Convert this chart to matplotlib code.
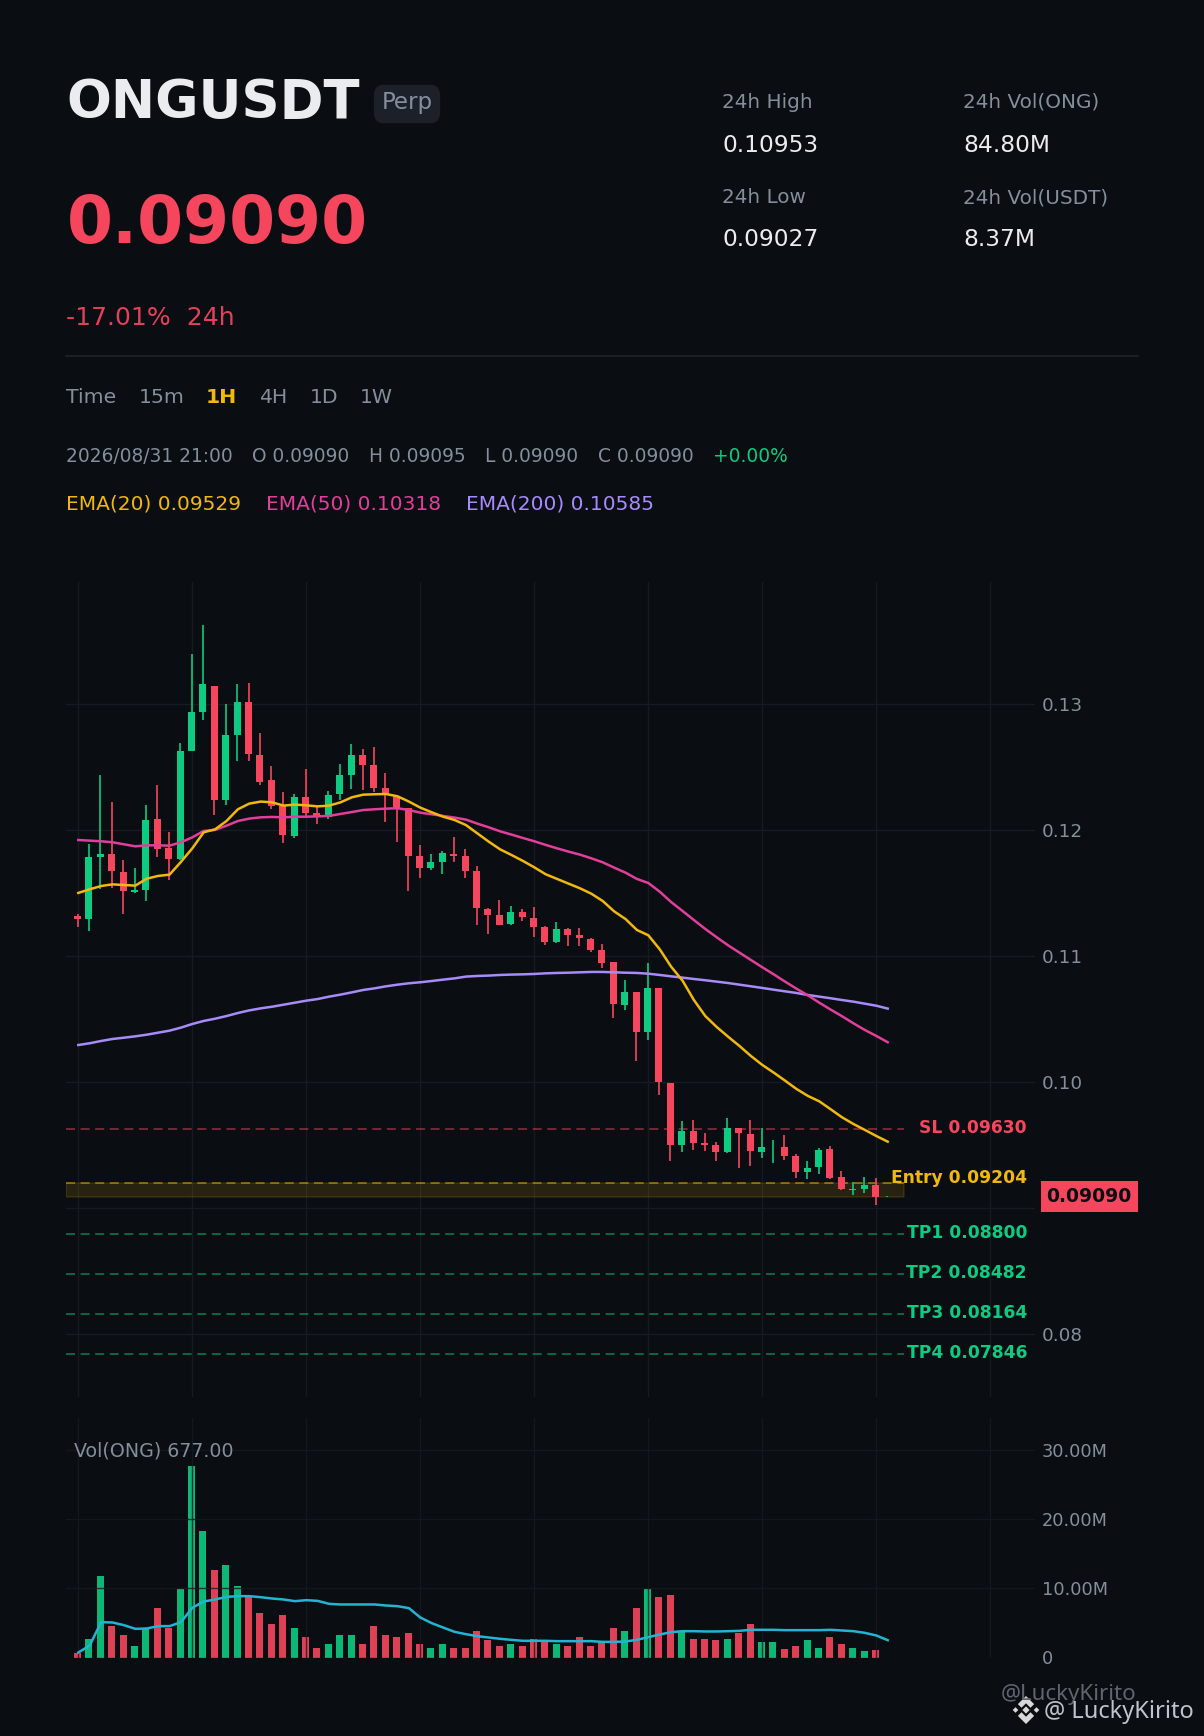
import matplotlib
matplotlib.use("Agg")
import matplotlib.pyplot as plt
from matplotlib.patches import FancyBboxPatch, Polygon, Rectangle

W, H = 1204, 1736
BG = "#0a0d11"
RED = "#F6465D"
GREEN = "#0ECB81"
GOLD = "#F0B90B"
PINK = "#E23E9B"
PURPLE = "#A78BFA"
CYAN = "#22B5D3"
GRAY = "#848E9C"
WHITE = "#EAECEF"
GRID = "#161A25"

# candles, one value per hour
opens = [.11320, .11296, .11788, .11812, .11669, .11511, .11526, .12090, .11860, .11772,
         .12630, .12939, .13146, .12241, .12757, .13019, .12598, .12399, .12193, .11955,
         .12265, .12138, .12106, .12288, .12439, .12598, .12519, .12336, .12272, .12175,
         .11796, .11701, .11749, .11812, .11796, .11677, .11376, .11328, .11257, .11352,
         .11304, .11233, .11114, .11217, .11169, .11138, .11050, .10955, .10614, .10717,
         .10399, .10749, .09995, .09503, .09614, .09519, .09503, .09447, .09638, .09590,
         .09447, .09542, .09487, .09415, .09288, .09328, .09471, .09249, .09145, .09153,
         .09185, .09090]
highs = [.11336, .11892, .12439, .12225, .11765, .11701, .12201, .12360, .11987, .12693,
         .13399, .13630, .13146, .13003, .13161, .13169, .12772, .12511, .12304, .12288,
         .12487, .12193, .12312, .12526, .12685, .12645, .12661, .12455, .12272, .12175,
         .11884, .11812, .11836, .11947, .11852, .11717, .11384, .11447, .11399, .11376,
         .11392, .11241, .11272, .11225, .11225, .11145, .11098, .10955, .10812, .10717,
         .10947, .10749, .09995, .09693, .09701, .09598, .09526, .09717, .09638, .09701,
         .09638, .09542, .09582, .09431, .09376, .09479, .09495, .09296, .09209, .09249,
         .09241, .09095]
lows = [.11233, .11201, .11534, .11542, .11336, .11503, .11439, .11788, .11606, .11765,
        .12630, .12876, .12122, .12201, .12550, .12550, .12360, .12169, .11899, .11939,
        .12114, .12050, .12090, .12241, .12328, .12320, .12304, .12066, .11907, .11519,
        .11622, .11685, .11653, .11749, .11622, .11249, .11177, .11249, .11249, .11280,
        .11153, .11090, .11106, .11082, .11082, .11034, .10907, .10511, .10574, .10170,
        .10336, .09899, .09376, .09447, .09463, .09455, .09376, .09439, .09320, .09336,
        .09399, .09360, .09384, .09241, .09233, .09272, .09233, .09145, .09106, .09122,
        .09026, .09090]
closes = [.11296, .11788, .11812, .11677, .11519, .11526, .12082, .11852, .11772, .12630,
          .12939, .13161, .12241, .12757, .13019, .12606, .12384, .12193, .11963, .12265,
          .12138, .12106, .12280, .12439, .12598, .12519, .12336, .12280, .12175, .11796,
          .11701, .11749, .11820, .11796, .11677, .11384, .11328, .11249, .11352, .11312,
          .11233, .11114, .11217, .11169, .11145, .11050, .10947, .10622, .10717, .10399,
          .10749, .10003, .09503, .09614, .09519, .09503, .09447, .09638, .09598, .09455,
          .09487, .09542, .09415, .09288, .09320, .09463, .09241, .09153, .09153, .09185,
          .09090, .09090]

ema20 = [.11503, .11532, .11558, .11571, .11566, .11561, .11616, .11638, .11648, .11749,
         .11857, .11984, .12008, .12074, .12167, .12212, .12228, .12222, .12196, .12204,
         .12198, .12190, .12196, .12222, .12262, .12283, .12286, .12288, .12270, .12228,
         .12180, .12143, .12108, .12082, .12042, .11976, .11910, .11849, .11804, .11757,
         .11706, .11651, .11614, .11577, .11540, .11497, .11439, .11357, .11296, .11209,
         .11167, .11056, .10918, .10807, .10653, .10526, .10439, .10362, .10288, .10209,
         .10138, .10077, .10013, .09947, .09892, .09849, .09786, .09722, .09669, .09622,
         .09574, .09529]
ema50 = [.11923, .11918, .11913, .11905, .11889, .11873, .11881, .11881, .11878, .11905,
         .11944, .11995, .12003, .12037, .12074, .12093, .12103, .12106, .12103, .12108,
         .12108, .12111, .12114, .12130, .12145, .12161, .12167, .12172, .12175, .12161,
         .12140, .12127, .12114, .12101, .12085, .12053, .12024, .11992, .11966, .11939,
         .11913, .11884, .11857, .11831, .11807, .11778, .11746, .11704, .11664, .11614,
         .11582, .11513, .11431, .11360, .11288, .11217, .11151, .11087, .11029, .10971,
         .10913, .10857, .10799, .10743, .10690, .10632, .10577, .10524, .10468, .10415,
         .10368, .10318]
ema200 = [.10296, .10310, .10328, .10344, .10354, .10365, .10378, .10394, .10410, .10434,
          .10463, .10487, .10505, .10526, .10550, .10571, .10587, .10600, .10616, .10632,
          .10648, .10661, .10680, .10696, .10714, .10733, .10746, .10762, .10775, .10786,
          .10794, .10804, .10815, .10825, .10839, .10844, .10847, .10852, .10855, .10857,
          .10860, .10865, .10868, .10870, .10873, .10876, .10876, .10873, .10870, .10868,
          .10862, .10852, .10841, .10831, .10820, .10810, .10799, .10788, .10775, .10762,
          .10749, .10735, .10722, .10709, .10693, .10680, .10667, .10653, .10640, .10624,
          .10608, .10585]

# volume in millions
volumes = [.72, 2.74, 11.70, 4.62, 3.18, 1.59, 4.33, 7.08, 4.33, 9.92,
           27.73, 18.20, 12.57, 13.43, 10.26, 8.81, 6.36, 4.77, 6.07, 4.33,
           3.03, 1.30, 1.88, 3.32, 3.18, 1.88, 4.48, 3.18, 3.03, 3.47,
           2.02, 1.30, 2.02, 1.44, 1.30, 3.76, 2.46, 1.59, 1.88, 1.73,
           2.60, 2.17, 2.02, 1.73, 3.03, 1.73, 2.17, 4.19, 3.76, 7.22,
           9.92, 8.81, 8.96, 3.76, 2.60, 2.60, 2.46, 2.60, 3.47, 4.77,
           2.31, 2.17, 1.16, 1.73, 2.46, 1.44, 2.89, 2.02, 1.44, 0.96,
           1.15, 0.000677]
vol_ma = [.72, 1.73, 5.10, 5.06, 4.67, 4.14, 4.19, 4.53, 4.53, 5.10,
          7.17, 8.09, 8.38, 8.76, 8.86, 8.86, 8.71, 8.52, 8.38, 8.14,
          8.28, 8.18, 7.75, 7.66, 7.66, 7.66, 7.66, 7.51, 7.41, 7.13,
          5.78, 4.96, 4.33, 3.71, 3.37, 3.08, 2.89, 2.70, 2.55, 2.41,
          2.41, 2.41, 2.36, 2.36, 2.36, 2.36, 2.26, 2.26, 2.31, 2.55,
          2.94, 3.32, 3.66, 3.80, 3.80, 3.76, 3.76, 3.80, 3.85, 4.00,
          4.00, 4.00, 3.95, 3.95, 3.95, 3.95, 4.00, 3.90, 3.80, 3.56,
          3.18, 2.50]

level_names = ["SL", "Entry", "TP1", "TP2", "TP3", "TP4"]
level_prices = [.09630, .09204, .08800, .08482, .08164, .07846]
price_ticks = [.13, .12, .11, .10, .09, .08]
price_labels = ["0.13", "0.12", "0.11", "0.10", "", "0.08"]
vol_ticks = [30, 20, 10, 0]
vol_labels = ["30.00M", "20.00M", "10.00M", "0"]
time_ticks = [0, 10, 20, 30, 40, 50, 60, 70, 80]
last_price = .09090

plt.rcParams["font.family"] = ["DejaVu Sans"]
plt.rcParams["lines.scale_dashes"] = False

fig = plt.figure(figsize=(W / 100, H / 100), dpi=100, facecolor=BG)


def txt(x, y, s, size, color, **kw):
    return fig.text(x / W, 1 - y / H, s, fontsize=size, color=color, **kw)


def px_axes(left, top, right, bottom):
    ax = fig.add_axes([left / W, 1 - bottom / H, (right - left) / W, (bottom - top) / H])
    ax.set_facecolor(BG)
    for s in ax.spines.values():
        s.set_visible(False)
    return ax


# header
txt(66, 118, "ONGUSDT", 38.1, WHITE, weight="bold")
fig.add_artist(FancyBboxPatch((378 / W, 1 - 119 / H), 58 / W, 30 / H, boxstyle="round,pad=0,rounding_size=0.004",
                              mutation_aspect=H / W * 0.7, transform=fig.transFigure,
                              fc="#1C2028", ec="#1C2028", lw=6))
txt(382, 109.5, "Perp", 16.5, GRAY)
txt(67, 243.5, "0.09090", 47.7, RED, weight="bold")
txt(66, 325, "-17.01%  24h", 18.1, "#E2415A")

for x, lab1, val1, lab2, val2 in [(722, "24h High", "0.10953", "24h Low", "0.09027"),
                                  (963, "24h Vol(ONG)", "84.80M", "24h Vol(USDT)", "8.37M")]:
    txt(x, 107.5, lab1, 14.4, GRAY)
    txt(x, 151.5, val1, 16.8, WHITE)
    txt(x, 203, lab2, 14.4, GRAY)
    txt(x, 246.5, val2, 16.8, WHITE)

fig.add_artist(plt.Line2D([66 / W, 1138 / W], [1 - 356 / H, 1 - 356 / H], color="#1E2330", lw=1.2))

for x, s in [(66, "Time"), (139, "15m"), (259, "4H"), (310, "1D"), (360, "1W")]:
    txt(x, 403, s, 14.7, GRAY)
txt(206, 403, "1H", 14.7, GOLD, weight="bold")

for x, s, c in [(66, "2026/08/31 21:00", GRAY), (252.5, "O 0.09090", GRAY), (369, "H 0.09095", GRAY),
                (485, "L 0.09090", GRAY), (598, "C 0.09090", GRAY), (713, "+0.00%", GREEN)]:
    txt(x, 462, s, 13.45, c)

for x, s, c in [(66, "EMA(20) 0.09529", GOLD), (266, "EMA(50) 0.10318", PINK), (466, "EMA(200) 0.10585", PURPLE)]:
    txt(x, 510, s, 14.5, c)

# price panel
ax = px_axes(66, 581.7, 1035, 1396.7)
ax.set_xlim(-1.08, 83.92)
ax.set_ylim(.07505, .13973)
ax.set_xticks(time_ticks)
ax.set_xticklabels([])
ax.set_yticks(price_ticks)
ax.set_yticklabels(price_labels, fontsize=13.2, color=GRAY)
ax.yaxis.tick_right()
ax.tick_params(length=0, pad=5)
ax.grid(True, color=GRID, lw=1)
ax.set_axisbelow(True)

n = len(opens)
xs = list(range(n))
bar_xs = [i - 0.07 for i in xs]  # bars sit a touch left of the gridlines
END = 72.45  # level lines stop short of the labels
LABEL_X = (1027 - 78.3) / 11.4

for name, price in zip(level_names, level_prices):
    color = RED if name == "SL" else GOLD if name == "Entry" else GREEN
    ax.hlines(price, -1.08, END, color=color, lw=1.3, alpha=0.5, linestyles=[(0, (6.5, 4))], zorder=1.5)
    lift = .00038 if name == "Entry" else .00004
    ax.text(LABEL_X, price + lift, f"{name} {price:.5f}", color=color, fontsize=12.3, weight="bold",
            ha="right", va="center", zorder=5)
ax.add_patch(Rectangle((-1.08, last_price), END + 1.08, level_prices[1] - last_price, fc=GOLD, ec=GOLD,
                       alpha=0.13, lw=1.2, zorder=1.4))

colors = [GREEN if c >= o else RED for o, c in zip(opens, closes)]
ax.vlines(bar_xs, lows, highs, colors=colors, lw=1.4, alpha=0.85, zorder=2)
ax.bar(bar_xs, [abs(c - o) for o, c in zip(opens, closes)], bottom=[min(o, c) for o, c in zip(opens, closes)],
       width=0.62, color=colors, lw=0, zorder=3)
ax.plot(xs, ema200, color=PURPLE, lw=1.8, zorder=4)
ax.plot(xs, ema50, color=PINK, lw=1.8, zorder=4)
ax.plot(xs, ema20, color=GOLD, lw=1.8, zorder=4)

fig.add_artist(Rectangle((1041 / W, 1 - 1212 / H), 97 / W, 31 / H, transform=fig.transFigure, fc=RED, lw=0))
txt(1089, 1195, "0.09090", 13.5, BG, weight="bold", ha="center", va="center_baseline", zorder=5)

# volume panel
vx = px_axes(66, 1418.3, 1035, 1657.5)
vx.set_xlim(-1.08, 83.92)
vx.set_ylim(0, 34.55)
vx.set_xticks(time_ticks)
vx.set_xticklabels([])
vx.set_yticks(vol_ticks)
vx.set_yticklabels(vol_labels, fontsize=12.8, color=GRAY)
vx.yaxis.tick_right()
vx.tick_params(length=0, pad=5)
vx.grid(True, color=GRID, lw=1, alpha=0.8, zorder=2.5)
vx.set_axisbelow(False)
bars = vx.bar(bar_xs, volumes, width=0.62, color=colors, alpha=0.9, lw=0, zorder=2)
bars[-1].set_snap(False)
vx.plot(xs, vol_ma, color=CYAN, lw=1.8, zorder=4)
txt(74, 1456.5, "Vol(ONG) 677.00", 13.7, GRAY)

# watermark
txt(1001, 1700, "@LuckyKirito", 16.1, "#5F646E", family="Noto Sans")
txt(1044, 1717.5, "@ LuckyKirito", 17, "#BEC3CC", family="Noto Sans")


def logo(pts):
    cx, cy, r = 1026, 1710, 14
    fig.add_artist(Polygon([((cx + a * r) / W, 1 - (cy - b * r) / H) for a, b in pts],
                           transform=fig.transFigure, fc="#D8D8D8", lw=0))


logo([(0, .26), (.26, 0), (0, -.26), (-.26, 0)])
logo([(-.75, .2), (-.55, 0), (-.75, -.2), (-.95, 0)])
logo([(.75, .2), (.95, 0), (.75, -.2), (.55, 0)])
logo([(0, 1), (.58, .42), (.32, .16), (0, .48), (-.32, .16), (-.58, .42)])
logo([(0, -1), (.58, -.42), (.32, -.16), (0, -.48), (-.32, -.16), (-.58, -.42)])

fig.savefig("out.png", dpi=100, facecolor=BG)
